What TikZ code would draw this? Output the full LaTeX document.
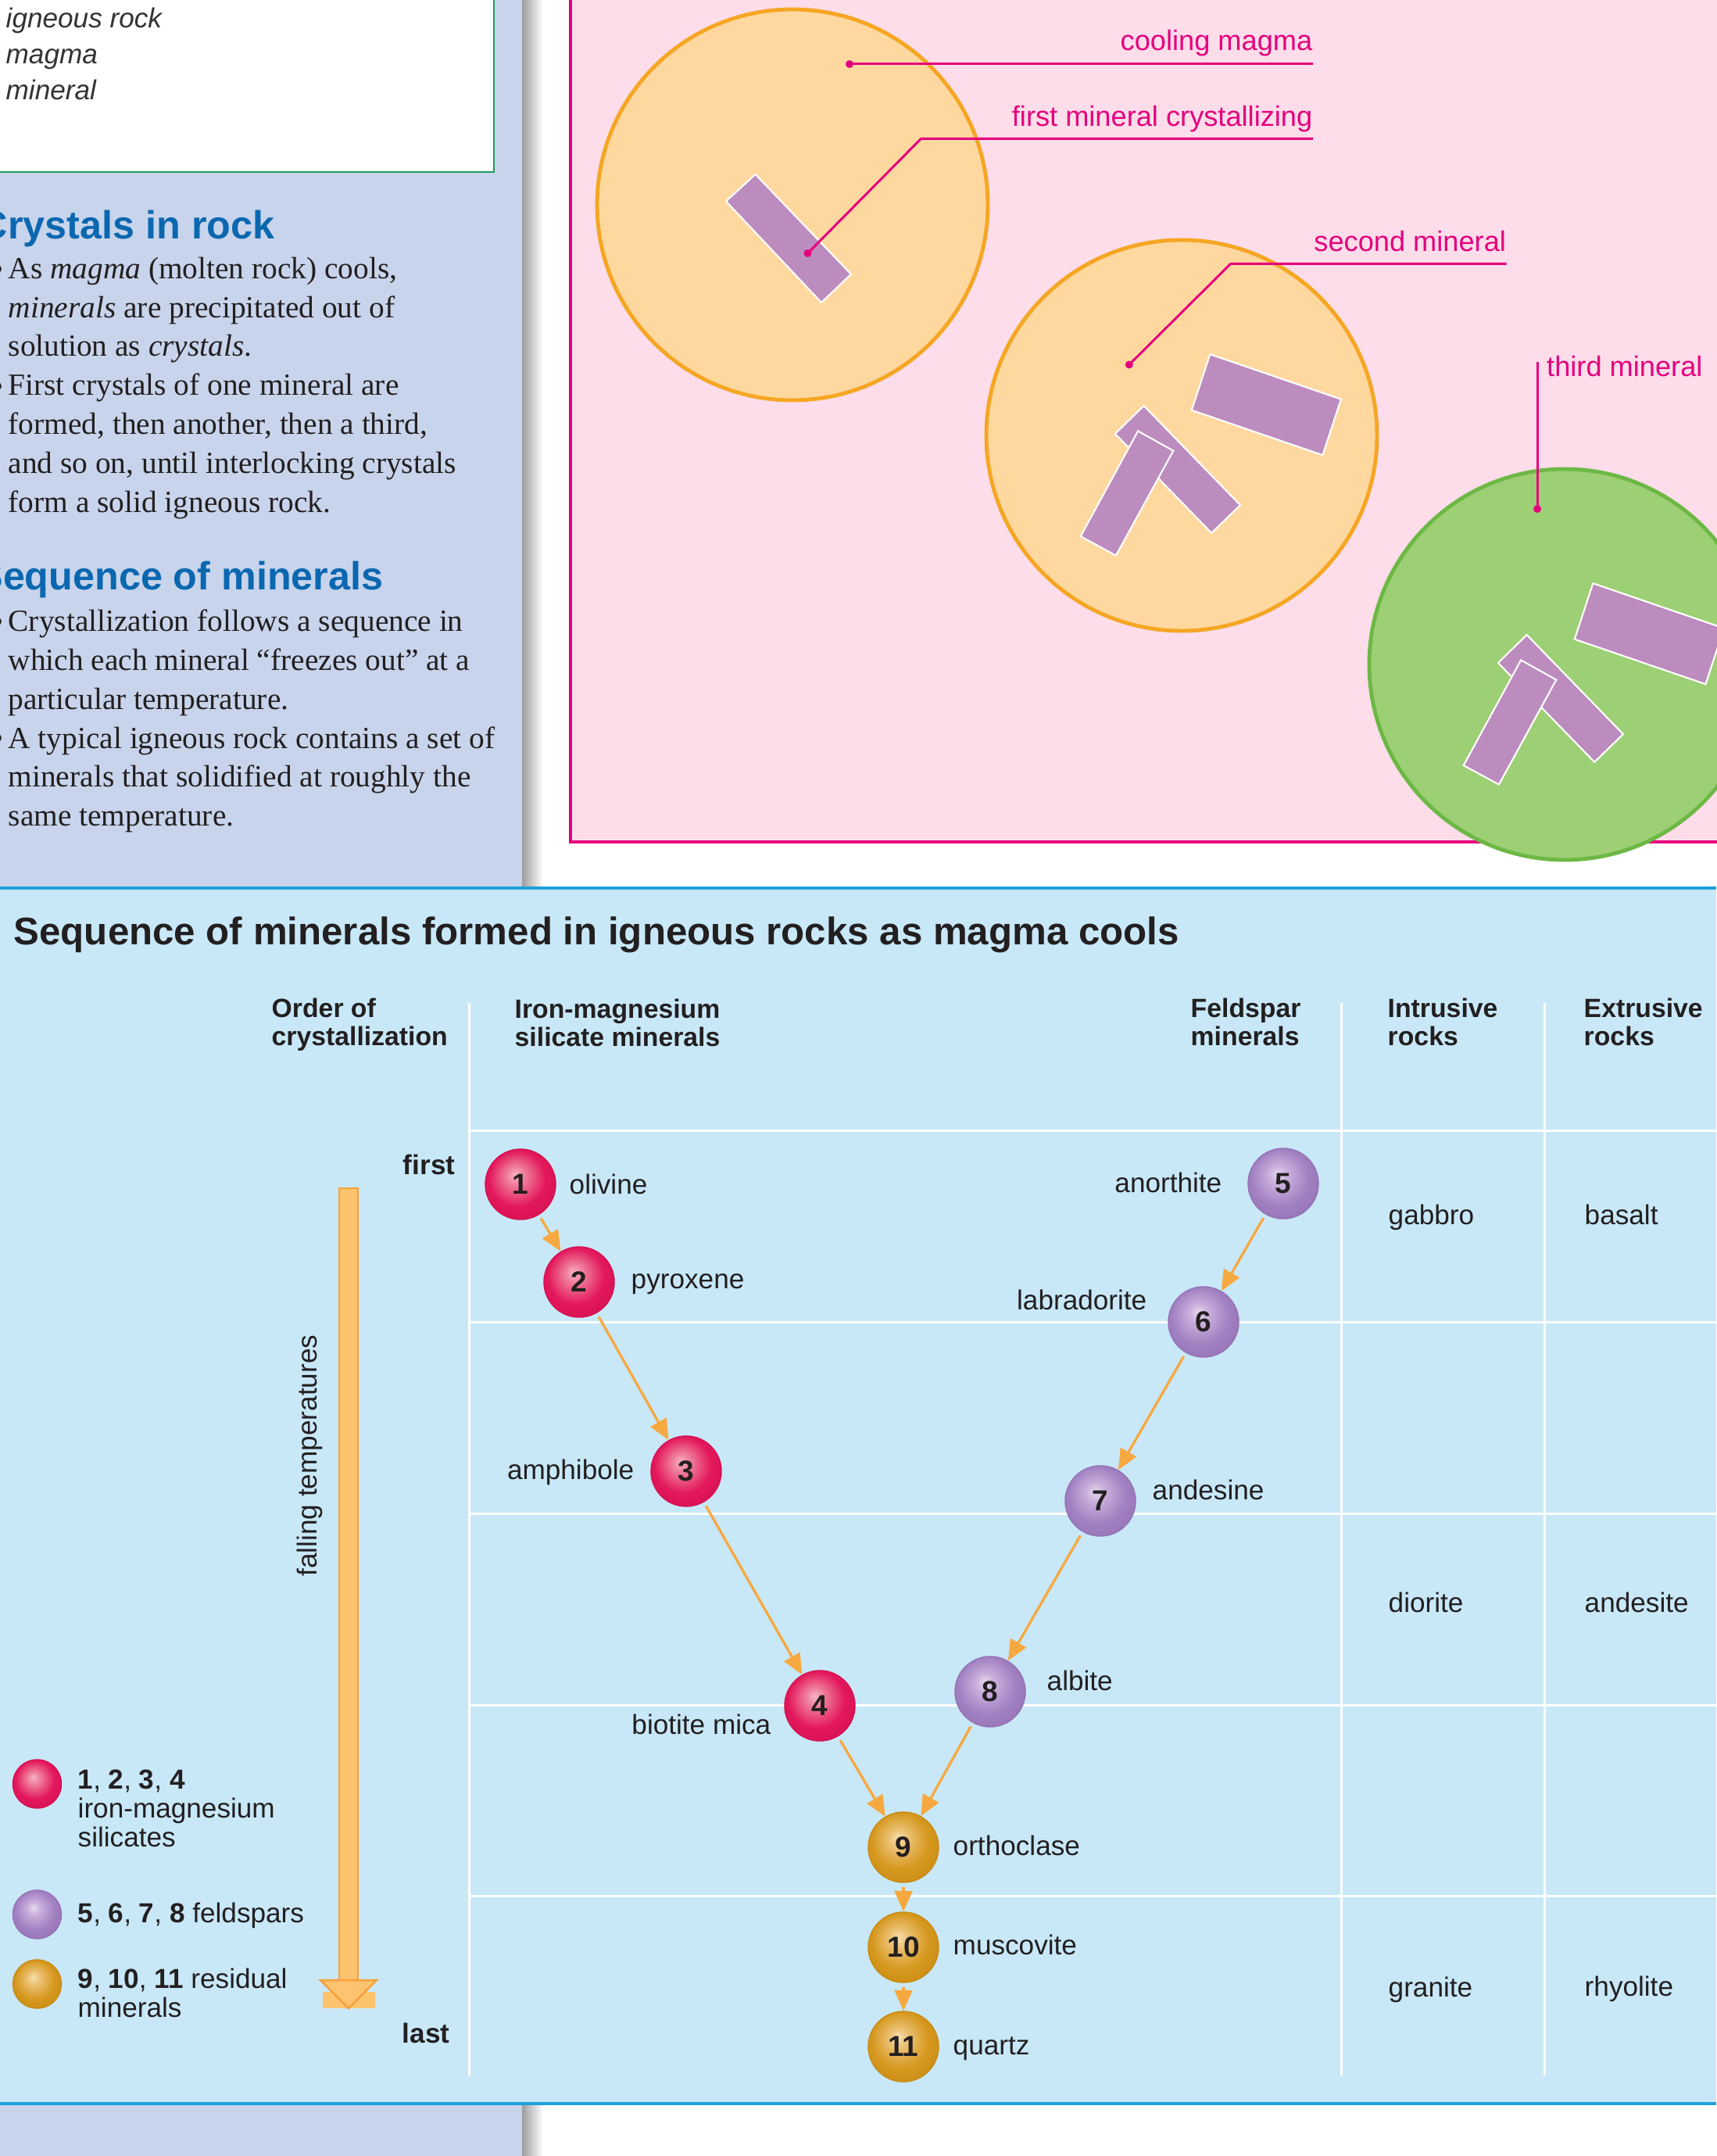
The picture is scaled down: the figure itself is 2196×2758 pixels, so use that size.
\documentclass[tikz,border=0pt]{standalone}
\usepackage{fontspec}
\setmainfont{Liberation Serif}
\setsansfont{Liberation Sans}
\usetikzlibrary{arrows.meta}
\definecolor{lav}{HTML}{C7D4EB}
\definecolor{skyb}{HTML}{C8E8F8}
\definecolor{cyanl}{HTML}{1EA2DC}
\definecolor{pinkbg}{HTML}{FCDDE9}
\definecolor{mag}{HTML}{E5007D}
\definecolor{orfill}{HTML}{FFD8A0}
\definecolor{orline}{HTML}{F5A623}
\definecolor{grfill}{HTML}{9DCF74}
\definecolor{grline}{HTML}{6DB845}
\definecolor{crys}{HTML}{BB8CBD}
\definecolor{boxgreen}{HTML}{1F9A5B}
\definecolor{headblue}{HTML}{0A67B0}
\definecolor{txt}{HTML}{231F20}
\definecolor{arr}{HTML}{F7A941}
\definecolor{bigfill}{HTML}{FDC36E}
\definecolor{bigline}{HTML}{F7A03C}
\definecolor{pkhi}{HTML}{F6B3C4}
\definecolor{pkmid}{HTML}{EF7A98}
\definecolor{pkbase}{HTML}{E3185C}
\definecolor{pkedge}{HTML}{D61152}
\definecolor{puhi}{HTML}{E6DAF0}
\definecolor{pumid}{HTML}{C8AEDB}
\definecolor{pubase}{HTML}{A281C2}
\definecolor{puedge}{HTML}{9572B5}
\definecolor{gohi}{HTML}{F7E0B0}
\definecolor{gomid}{HTML}{EBC072}
\definecolor{gobase}{HTML}{D6981F}
\definecolor{goedge}{HTML}{C98B12}
\pgfdeclareradialshading{pinkball}{\pgfpoint{-4bp}{7bp}}{color(0bp)=(pkhi); color(7bp)=(pkmid); color(20bp)=(pkbase); color(32bp)=(pkedge); color(50bp)=(pkedge)}
\pgfdeclareradialshading{purpball}{\pgfpoint{-4bp}{7bp}}{color(0bp)=(puhi); color(7bp)=(pumid); color(20bp)=(pubase); color(32bp)=(puedge); color(50bp)=(puedge)}
\pgfdeclareradialshading{goldball}{\pgfpoint{-4bp}{7bp}}{color(0bp)=(gohi); color(7bp)=(gomid); color(20bp)=(gobase); color(32bp)=(goedge); color(50bp)=(goedge)}
\tikzset{
  ball/.style={circle, minimum size=0.9cm, inner sep=0pt, line width=0.4pt,
    font=\sffamily\bfseries\fontsize{10.5}{12}\selectfont, text=txt},
  pball/.style={ball, shade, shading=pinkball, draw=pkedge},
  uball/.style={ball, shade, shading=purpball, draw=puedge},
  gball/.style={ball, shade, shading=goldball, draw=goedge},
  legball/.style={minimum size=0.62cm},
  flow/.style={draw=arr, line width=0.95pt, -{Triangle[length=7.5pt,width=6.5pt]}, shorten <=1.5pt},
  lab/.style={font=\sffamily\fontsize{10}{12}\selectfont, text=txt, inner sep=0pt},
  hdr/.style={font=\sffamily\bfseries\fontsize{9.6}{11}\selectfont, text=txt, inner sep=0pt, anchor=base west},
  body/.style={font=\fontsize{11.2}{14}\selectfont, text=txt, inner sep=0pt, anchor=base west},
  head/.style={font=\sffamily\bfseries\fontsize{14.3}{16}\selectfont, text=headblue, inner sep=0pt, anchor=base east},
  callout/.style={font=\sffamily\fontsize{10.3}{12}\selectfont, text=mag, inner sep=0pt},
  cline/.style={draw=mag, line width=0.85pt},
  crystal/.style={fill=crys, draw=white, line width=0.6pt},
  grid/.style={draw=white, line width=0.85pt},
  term/.style={font=\sffamily\itshape\fontsize{10}{12}\selectfont, text=black!80, inner sep=0pt, anchor=base west}
}
\begin{document}
\begin{tikzpicture}[x=0.01cm,y=-0.01cm]
\useasboundingbox (0,0) rectangle (2196,2758);
\fill[white] (0,0) rectangle (2196,2758);
% left lavender panel and shadows
\fill[lav] (0,0) rectangle (668,1135);
\fill[lav] (0,2693) rectangle (668,2758);
\shade[left color=black!38, right color=white] (668,0) rectangle (695,1135);
\shade[left color=black!38, right color=white] (668,2693) rectangle (695,2758);
% glossary box
\draw[boxgreen, line width=0.8pt, fill=white] (-20,-20) rectangle (632,220);
\node[term] (g1) at (7,36) {igneous rock};
\node[term] (g2) at (7,82) {magma};
\node[term] (g3) at (7,128) {mineral};
% headings and body text
\node[head] (h1) at (352,306) {Crystals in rock};
\foreach \yy in {344,494,795,944} \fill[txt] (-3,\yy) circle (5);
\node[body] (t1) at (10,357) {As \textit{magma} (molten rock) cools,};
\node[body] (t2) at (10,407) {\textit{minerals} are precipitated out of};
\node[body] (t3) at (10,456) {solution as \textit{crystals}.};
\node[body] (t4) at (10,506) {First crystals of one mineral are};
\node[body] (t5) at (10,556) {formed, then another, then a third,};
\node[body] (t6) at (10,606) {and so on, until interlocking crystals};
\node[body] (t7) at (10,656) {form a solid igneous rock.};
\node[head] (h2) at (491,754) {Sequence of minerals};
\node[body] (s1) at (10,807) {Crystallization follows a sequence in};
\node[body] (s2) at (10,857) {which each mineral “freezes out” at a};
\node[body] (s3) at (10,907) {particular temperature.};
\node[body] (s4) at (10,957) {A typical igneous rock contains a set of};
\node[body] (s5) at (10,1006) {minerals that solidified at roughly the};
\node[body] (s6) at (10,1056) {same temperature.};
% pink panel
\fill[pinkbg] (730,-10) rectangle (2210,1077);
\draw[mag, line width=1.1pt] (730,-10) -- (730,1077) -- (2210,1077);
% circles
\draw[fill=orfill, draw=orline, line width=1.4pt] (1014,262) circle (250);
\draw[fill=orfill, draw=orline, line width=1.4pt] (1512,557) circle (250);
\draw[fill=grfill, draw=grline, line width=1.4pt] (2002,850) circle (250);
% crystals
\draw[crystal] (929,257.5) -- (966.6,223) -- (1089,350.8) -- (1051,387) -- cycle;
\foreach \sx/\sy in {0/0,490/293}{
  \begin{scope}[shift={(\sx,\sy)}]
  \draw[crystal] (1548.3,453.2) -- (1715.9,510.7) -- (1692.4,582.2) -- (1524.8,524.7) -- cycle;
  \draw[crystal] (1463.6,519.1) -- (1586.9,646.1) -- (1550.2,681.9) -- (1426.9,554.9) -- cycle;
  \draw[crystal] (1456.1,551.4) -- (1501.3,576.6) -- (1427.9,710.6) -- (1382.7,686.1) -- cycle;
  \end{scope}}
% callouts
\coordinate (c1a) at (1087,82);
\coordinate (c1b) at (1680,82);
\node[callout, anchor=base east] (c1t) at (1680,65) {cooling magma};
\draw[cline] (c1a) -- (c1b);
\fill[mag] (c1a) circle (5);
\coordinate (c2a) at (1033.5,324);
\coordinate (c2k) at (1178.4,177.5);
\coordinate (c2b) at (1680,177.5);
\node[callout, anchor=base east] (c2t) at (1680,162) {first mineral crystallizing};
\draw[cline] (c2a) -- (c2k) -- (c2b);
\fill[mag] (c2a) circle (5);
\coordinate (c3a) at (1444.8,466.5);
\coordinate (c3k) at (1574.7,337.4);
\coordinate (c3b) at (1927.7,337.4);
\node[callout, anchor=base east] (c3t) at (1927.7,322) {second mineral};
\draw[cline] (c3a) -- (c3k) -- (c3b);
\fill[mag] (c3a) circle (5);
\coordinate (c4a) at (1967,651);
\coordinate (c4b) at (1967,463);
\node[callout, anchor=base west] (c4t) at (1978.5,482) {third mineral};
\draw[cline] (c4a) -- (c4b);
\fill[mag] (c4a) circle (5);
% lower panel
\fill[skyb] (0,1136) rectangle (2196,2691);
\draw[cyanl, line width=1.2pt] (0,1136) -- (2196,1136);
\draw[cyanl, line width=1.0pt] (0,2691) -- (2196,2691);
\node[font=\sffamily\bfseries\fontsize{14}{16}\selectfont, text=txt, inner sep=0pt, anchor=base west] (title) at (17,1208) {Sequence of minerals formed in igneous rocks as magma cools};
% grid
\foreach \xx in {600,1716,1976} \draw[grid] (\xx,1283) -- (\xx,2655);
\foreach \yy in {1446,1691,1936,2181,2425} \draw[grid] (600,\yy) -- (2200,\yy);
% headers
\node[hdr] (o1) at (347,1301) {Order of};
\node[hdr] (o2) at (347,1337) {crystallization};
\node[hdr] (i1) at (658,1302) {Iron-magnesium};
\node[hdr] (i2) at (658,1338) {silicate minerals};
\node[hdr] (f1) at (1523,1301) {Feldspar};
\node[hdr] (f2) at (1523,1337) {minerals};
\node[hdr] (n1) at (1775,1301) {Intrusive};
\node[hdr] (n2) at (1775,1337) {rocks};
\node[hdr] (e1) at (2026,1301) {Extrusive};
\node[hdr] (e2) at (2026,1337) {rocks};
% big arrow
\fill[bigfill, draw=bigline, line width=0.5pt] (434,1520) rectangle (458,2533);
\fill[bigfill] (413,2548) rectangle (480,2569);
\draw[fill=bigfill, draw=bigline, line width=0.7pt, line join=miter] (410,2533) -- (482,2533) -- (446,2569) -- cycle;
\node[lab, rotate=90] (fall) at (396,1862) {falling temperatures};
\node[lab, font=\sffamily\bfseries\fontsize{10}{12}\selectfont, anchor=base east] (first) at (583,1502) {first};
\node[lab, font=\sffamily\bfseries\fontsize{10}{12}\selectfont, anchor=base east] (last) at (576,2613) {last};
% balls
\node[pball] (b1) at (666,1515) {1};
\node[pball] (b2) at (741,1640) {2};
\node[pball] (b3) at (878,1882) {3};
\node[pball] (b4) at (1049,2182) {4};
\node[uball] (b5) at (1642,1514) {5};
\node[uball] (b6) at (1540,1691) {6};
\node[uball] (b7) at (1408,1920) {7};
\node[uball] (b8) at (1267,2164) {8};
\node[gball] (b9) at (1156,2363) {9};
\node[gball] (b10) at (1156,2491) {10};
\node[gball] (b11) at (1156,2618) {11};
\draw[flow] (b1) -- (b2);
\draw[flow] (b2) -- (b3);
\draw[flow] (b3) -- (b4);
\draw[flow] (b4) -- (b9);
\draw[flow] (b5) -- (b6);
\draw[flow] (b6) -- (b7);
\draw[flow] (b7) -- (b8);
\draw[flow] (b8) -- (b9);
\draw[flow] (b9) -- (b10);
\draw[flow] (b10) -- (b11);
% mineral labels
\node[lab, anchor=base west] (l1) at (728,1527) {olivine};
\node[lab, anchor=base west] (l2) at (807,1648) {pyroxene};
\node[lab, anchor=base east] (l3) at (812,1892) {amphibole};
\node[lab, anchor=base east] (l4) at (987,2218) {biotite mica};
\node[lab, anchor=base east] (l5) at (1564,1525) {anorthite};
\node[lab, anchor=base east] (l6) at (1468,1675) {labradorite};
\node[lab, anchor=base west] (l7) at (1474,1918) {andesine};
\node[lab, anchor=base west] (l8) at (1339,2162) {albite};
\node[lab, anchor=base west] (l9) at (1219,2373) {orthoclase};
\node[lab, anchor=base west] (l10) at (1219,2500) {muscovite};
\node[lab, anchor=base west] (l11) at (1219,2628) {quartz};
% rocks
\node[lab, anchor=base west] (r1) at (1776,1566) {gabbro};
\node[lab, anchor=base west] (r2) at (2027,1566) {basalt};
\node[lab, anchor=base west] (r3) at (1776,2062) {diorite};
\node[lab, anchor=base west] (r4) at (2027,2062) {andesite};
\node[lab, anchor=base west] (r5) at (1776,2554) {granite};
\node[lab, anchor=base west] (r6) at (2027,2553) {rhyolite};
% legend
\node[pball, legball] (k1) at (47.5,2282) {};
\node[uball, legball] (k2) at (47.5,2449) {};
\node[gball, legball] (k3) at (47.5,2538) {};
\node[lab, anchor=base west] (k1a) at (99,2288) {\textbf{1}, \textbf{2}, \textbf{3}, \textbf{4}};
\node[lab, anchor=base west] (k1b) at (99,2325) {iron-magnesium};
\node[lab, anchor=base west] (k1c) at (99,2362) {silicates};
\node[lab, anchor=base west] (k2a) at (99,2459) {\textbf{5}, \textbf{6}, \textbf{7}, \textbf{8} feldspars};
\node[lab, anchor=base west] (k3a) at (99,2543) {\textbf{9}, \textbf{10}, \textbf{11} residual};
\node[lab, anchor=base west] (k3b) at (99,2580) {minerals};
\end{tikzpicture}
\end{document}
